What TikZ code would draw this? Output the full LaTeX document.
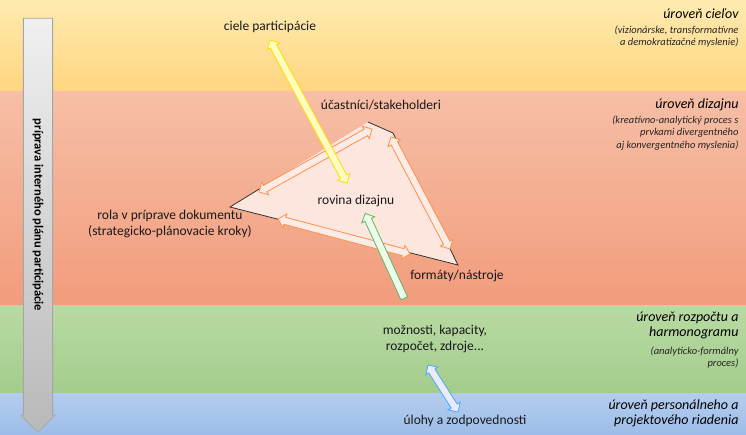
\documentclass[tikz,border=0pt]{standalone}
\usepackage{fontspec}
\setmainfont{Carlito}
\usetikzlibrary{shapes.arrows,calc}
\definecolor{yel1}{HTML}{FFEBB0}\definecolor{yel2}{HTML}{FFD580}
\definecolor{red1}{HTML}{F6BFA6}\definecolor{red2}{HTML}{F29C7C}
\definecolor{grn1}{HTML}{B9DAA3}\definecolor{grn2}{HTML}{A3CD8C}
\definecolor{blu1}{HTML}{B4CDEE}\definecolor{blu2}{HTML}{9DBDE8}
\definecolor{tri}{HTML}{FDE6DE}
\tikzset{
 lbl/.style={font=\fontsize{13.5}{16}\selectfont, align=center, text=black!90},
 lvl/.style={font=\fontsize{14}{15.5}\selectfont\itshape, anchor=north east, align=right},
 sub/.style={font=\fontsize{10.5}{12.5}\selectfont\itshape, anchor=north east, align=right, text=black!85},
 fat/.style={shape=double arrow, minimum width=14pt, double arrow head extend=3.5pt, inner sep=3.2pt, line width=0.8pt},
 fat1/.style={shape=single arrow, minimum width=14pt, single arrow head extend=3.5pt, inner sep=3.2pt, line width=0.8pt},
 edgeA/.style={fat, draw=orange!75!red!70, fill=tri!80!white},
}
\newcommand{\fatarrow}[3]{%
 \path let \p1=#2, \p2=#3, \n1={atan2(\y2-\y1,\x2-\x1)}, \n2={veclen(\x2-\x1,\y2-\y1)} in
 node[#1, rotate=\n1, minimum height=\n2] at ($#2!0.5!#3$) {};}
\begin{document}
\begin{tikzpicture}[x=1pt,y=-1pt]
\useasboundingbox (0,0) rectangle (746,434);
\shade[top color=yel1,bottom color=yel2] (0,0) rectangle (746,91);
\shade[top color=red1,bottom color=red2] (0,91) rectangle (746,305);
\shade[top color=grn1,bottom color=grn2] (0,305) rectangle (746,393);
\shade[top color=blu1,bottom color=blu2] (0,393) rectangle (746,434);
% gray arrow
\node[shape=single arrow, shape border rotate=270, inner sep=12pt, minimum width=34pt, minimum height=414pt, single arrow head extend=2pt, draw=gray!70, top color=gray!12, bottom color=gray!55, line width=0.8pt] (prep) at (38,218) {};
\node[font=\fontsize{12.5}{14}\selectfont\bfseries, rotate=-90] at (38,215) {príprava interného plánu participácie};
% triangle
\coordinate (A) at (368,122); \coordinate (B) at (393,133);
\coordinate (C) at (458,265); \coordinate (D) at (230,207);
\fill[tri] (A)--(B)--(C)--(D)--cycle;
\draw[black!80, line width=0.8pt] (A)--(B)--($(B)!0.09!(C)$) ($(B)!0.84!(C)$)--(C)--($(C)!0.22!(D)$) ($(C)!0.78!(D)$)--(D)--($(D)!0.22!(A)$);
\node[lbl] (rov) at (356,201) {rovina dizajnu};
% edge arrows
\coordinate (e1a) at (259,192); \coordinate (e1b) at (372,129);
\coordinate (e2a) at (391,137); \coordinate (e2b) at (450,249);
\coordinate (e3a) at (278,219); \coordinate (e3b) at (410,254);
\fatarrow{edgeA}{(e1a)}{(e1b)}
\fatarrow{edgeA}{(e2a)}{(e2b)}
\fatarrow{edgeA}{(e3a)}{(e3b)}
% texts
\node[lbl] (ciele) at (270,27) {ciele participácie};
\node[lbl] (ucast) at (381,105) {účastníci/stakeholderi};
\node[lbl] (rola) at (170,224) {rola v príprave dokumentu\\(strategicko-plánovacie kroky)};
\node[lbl] (form) at (457,276) {formáty/nástroje};
\node[lbl] (mozn) at (435,339) {možnosti, kapacity,\\rozpočet, zdroje...};
\node[lbl] (ulohy) at (465,421) {úlohy a zodpovednosti};
% yellow, green, blue arrows
\coordinate (y1) at (270,40); \coordinate (y2) at (347,183);
\fatarrow{fat, draw=yellow!80!orange, fill=yellow!25}{(y1)}{(y2)}
\coordinate (g1) at (405,300); \coordinate (g2) at (366,215);
\fatarrow{fat1, draw=green!50!black!60, fill=green!8}{(g1)}{(g2)}
\coordinate (b1) at (428,365); \coordinate (b2) at (458,412);
\fatarrow{fat, draw=blue!50!cyan!70, fill=blue!8}{(b1)}{(b2)}
% right labels
\node[lvl] at (742,5) {úroveň cieľov};
\node[sub] at (742,22) {(vizionárske, transformatívne\\a demokratizačné myslenie)};
\node[lvl] at (742,95) {úroveň dizajnu};
\node[sub] at (742,112) {(kreatívno-analytický proces s\\prvkami divergentného\\aj konvergentného myslenia)};
\node[lvl] at (742,308) {úroveň rozpočtu a\\harmonogramu};
\node[sub] at (742,343) {(analyticko-formálny\\proces)};
\node[lvl] at (742,396) {úroveň personálneho a\\projektového riadenia};
\end{tikzpicture}
\end{document}
